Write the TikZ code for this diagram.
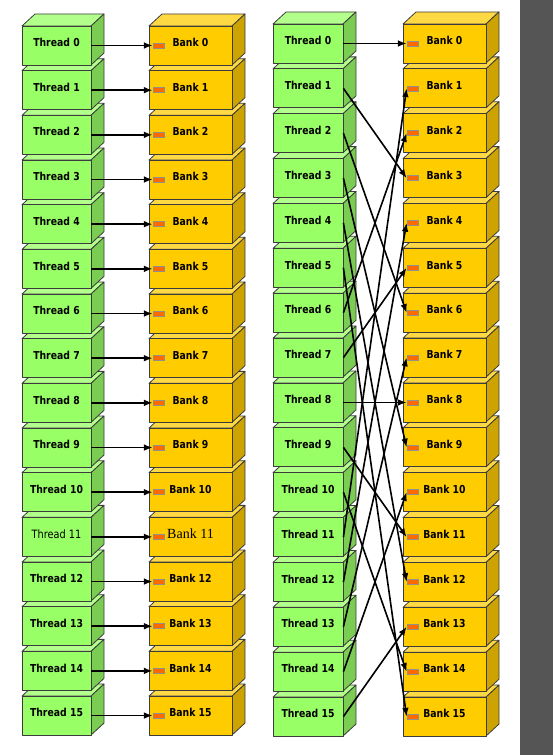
\documentclass[tikz,border=0pt]{standalone}
\usepackage{fontspec}
\setsansfont[FakeStretch=0.85]{DejaVu Sans}
\newfontfamily\bankserif{Liberation Serif}
\newcommand\oddbank{\bankserif\mdseries\fontsize{10.5}{12}\selectfont}
\newcommand\oddthread{\mdseries\fontsize{8.6}{10}\selectfont}
\usetikzlibrary{arrows.meta}
\definecolor{threadfront}{HTML}{99FF66}
\definecolor{threadtop}{HTML}{B3FF8C}
\definecolor{threadside}{HTML}{7ACC52}
\definecolor{bankfront}{HTML}{FFCC00}
\definecolor{banktop}{HTML}{FFD944}
\definecolor{bankside}{HTML}{CCA300}
\definecolor{boxline}{HTML}{3C3C3C}
\definecolor{portorange}{HTML}{FF6A00}
\definecolor{portgray}{HTML}{909090}
\definecolor{stripgray}{HTML}{555555}

\begin{document}
\begin{tikzpicture}[x=0.75pt,y=-0.75pt,
  face/.style={draw=boxline,line width=0.6pt,line join=round},
  front/.style={face,rectangle,inner sep=0pt,minimum height=29.25pt,
    font=\sffamily\bfseries\fontsize{8.2}{9}\selectfont,text depth=4.5pt},
  port/.style={rectangle,inner sep=0pt,minimum width=8.25pt,minimum height=3.75pt,
    fill=portorange,draw=portgray,line width=0.5pt},
  link/.style={-{Latex[length=6.5pt,width=5pt]},line width=1.2pt}]
  \useasboundingbox (0,0) rectangle (553,755);
  \fill[stripgray] (520,0) rectangle (553,755);

  % four stacks of boxes, drawn bottom up
  \foreach \col/\x/\w/\ytop/\pitch/\word/\cf/\ct/\cs/\quirk in {
      T/22/69/26/44.67/Thread/threadfront/threadtop/threadside/\oddthread,
      B/149/83/26/44.67/Bank/bankfront/banktop/bankside/\oddbank,
      RT/273/70/24/44.87/Thread/threadfront/threadtop/threadside/\relax,
      RB/403/83/24/44.87/Bank/bankfront/banktop/bankside/\relax} {
    \foreach \i in {15,14,...,0} {
      \pgfmathsetmacro\yt{\ytop+\pitch*\i}
      \filldraw[face,fill=\ct] (\x,\yt) -- ++(13,-12) -- ++(\w,0) -- ++(-13,12) -- cycle;
      \filldraw[face,fill=\cs] (\x+\w,\yt) -- ++(13,-12) -- ++(0,39) -- ++(-13,12) -- cycle;
      \node[front,fill=\cf,minimum width={\w*0.75pt}] (\col\i) at (\x+\w/2,\yt+19.5)
        {\ifnum\i=11 \quirk\fi\word{} \i};
    }
  }

  \foreach \col in {B,RB}
    \foreach \i in {0,...,15}
      \node[port,anchor=west] (\col P\i) at ([xshift=3pt]\col\i.west) {};

  % stride one on the left, stride three on the right
  \foreach \i in {0,...,15} {
    \pgfmathtruncatemacro\k{mod(3*\i,16)}
    \draw[link] (T\i.east) -- (BP\i.west);
    \draw[link] (RT\i.east) -- (RBP\k.west);
  }
\end{tikzpicture}
\end{document}
